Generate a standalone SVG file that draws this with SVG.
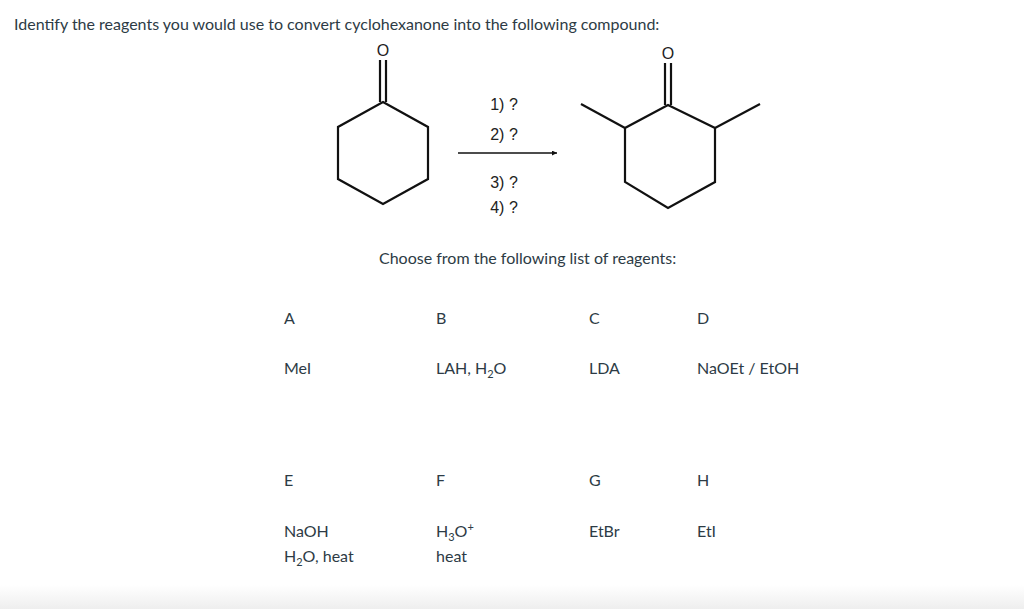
<svg xmlns="http://www.w3.org/2000/svg" width="1024" height="609" viewBox="0 0 1024 609">
<style>
text{font-family:Lato,"Liberation Sans",sans-serif;fill:#2d3b45;font-size:16px}
.s{font-family:"Liberation Sans",Arial,sans-serif;fill:#222;font-size:16px}
.b{fill:none;stroke:#111;stroke-width:2.2;stroke-linejoin:miter}
</style>
<defs><marker id="ah" viewBox="0 0 10 10" refX="10" refY="5" markerWidth="10" markerHeight="5" markerUnits="userSpaceOnUse" orient="auto"><path d="M0 0L10 5L0 10z" fill="#111"/></marker><linearGradient id="g" x1="0" y1="0" x2="0" y2="1"><stop offset="0" stop-color="#fff"/><stop offset="1" stop-color="#eee"/></linearGradient></defs>
<rect width="1024" height="609" fill="#fff"/>
<rect y="585" width="1024" height="24" fill="url(#g)"/>
<text x="14" y="30" font-size="17">Identify the reagents you would use to convert cyclohexanone into the following compound:</text>
<g id="reactant">
<polygon class="b" points="383,102 428,127 428,179 383,204 338,179 338,127"/>
<line class="b" x1="380" y1="60" x2="380" y2="102"/><line class="b" x1="386" y1="60" x2="386" y2="102"/>
<text class="s" x="383" y="56" text-anchor="middle" font-size="14">O</text>
</g>
<g id="product">
<polygon class="b" points="668,105 715,128 715,182 668,208 625,182 625,128"/>
<line class="b" x1="665" y1="63" x2="665" y2="105"/><line class="b" x1="671" y1="63" x2="671" y2="105"/>
<line class="b" x1="715" y1="128" x2="760" y2="104"/><line class="b" x1="625" y1="128" x2="581" y2="104"/>
<text class="s" x="668" y="59" text-anchor="middle" font-size="14">O</text>
</g>
<g id="connectors"><line x1="458" y1="153" x2="557" y2="153" stroke="#111" stroke-width="1.5" marker-end="url(#ah)"/></g>
<g id="conditions">
<text class="s" x="504" y="110" text-anchor="middle">1) ?</text>
<text class="s" x="504" y="140" text-anchor="middle">2) ?</text>
<text class="s" x="504" y="188" text-anchor="middle">3) ?</text>
<text class="s" x="504" y="213" text-anchor="middle">4) ?</text>
</g>
<text x="379" y="264">Choose from the following list of reagents:</text>
<g id="A"><text x="284" y="324">A</text><text x="284" y="374">MeI</text></g>
<g id="B"><text x="436" y="324">B</text><text x="436" y="374">LAH, H<tspan font-size="11" dy="4">2</tspan><tspan dy="-4">O</tspan></text></g>
<g id="C"><text x="589" y="324">C</text><text x="589" y="374">LDA</text></g>
<g id="D"><text x="697" y="324">D</text><text x="697" y="374">NaOEt / EtOH</text></g>
<g id="E"><text x="284" y="486">E</text><text x="284" y="537">NaOH</text><text x="284" y="562">H<tspan font-size="11" dy="4">2</tspan><tspan dy="-4">O, heat</tspan></text></g>
<g id="F"><text x="436" y="486">F</text><text x="436" y="537">H<tspan font-size="11" dy="4">3</tspan><tspan dy="-4">O</tspan><tspan font-size="11" dy="-6">+</tspan></text><text x="436" y="562">heat</text></g>
<g id="G"><text x="589" y="486">G</text><text x="589" y="537">EtBr</text></g>
<g id="H"><text x="697" y="486">H</text><text x="697" y="537">EtI</text></g>
</svg>
